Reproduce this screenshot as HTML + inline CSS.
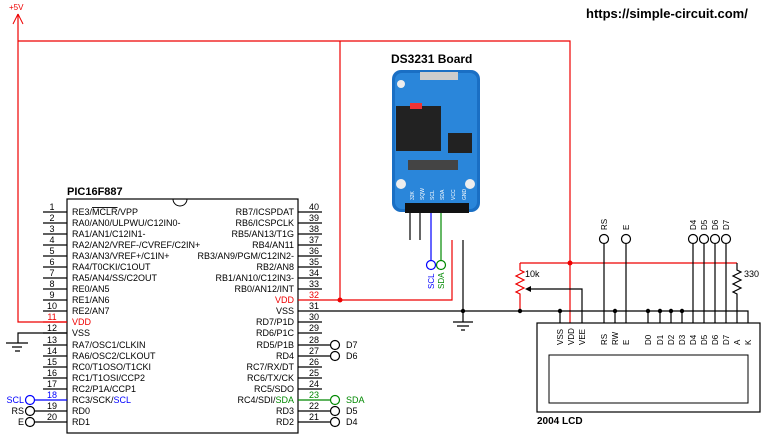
<!DOCTYPE html>
<html><head><meta charset="utf-8"><style>
body{margin:0;background:#fff}
svg{display:block;font-family:"Liberation Sans",Arial,sans-serif}
.p{font-size:9px}
.n{font-size:9px}
</style></head><body>
<svg width="768" height="440" viewBox="0 0 768 440" xmlns="http://www.w3.org/2000/svg">
<rect width="768" height="440" fill="#fff"/>
<text x="586" y="18" font-size="13" font-weight="bold">https://simple-circuit.com/</text>
<!-- +5V -->
<text x="9" y="10" font-size="8" fill="#e00">+5V</text>
<path d="M18 14 L13 24 M18 14 L23 24" stroke="#e00" fill="none"/>
<!-- red wires -->
<g stroke="#e00" fill="none" stroke-width="1.2">
<path d="M18 14 V322 H67"/>
<path d="M18 41 H570 V323"/>
<path d="M340 41 V300"/>
<path d="M322 300 H452 V240"/>
<path d="M520 263 H737"/>
<path d="M520 263 V270 l4 2 l-8 4 l8 4 l-8 4 l8 4 l-8 4 l4 2 V311"/>
<path d="M737 263 V270 l4 2 l-8 4 l8 4 l-8 4 l8 4 l-8 4 l4 2 V323" stroke="#000"/>
</g>
<circle cx="340" cy="300" r="2.5" fill="#e00"/>
<circle cx="570" cy="263" r="2.5" fill="#e00"/>
<!-- black wires -->
<g stroke="#000" fill="none" stroke-width="1.2">
<path d="M322 311 H748 V323"/>
<path d="M463 240 V322"/>
<path d="M453 322 H473 M457 326 H469 M461 330 H465"/>
<path d="M67 333 H18 V343 M6 343 H28 M12 347 H22 M15 351 H20"/>
<path d="M560 311 V323 M615 311 V323 M648 311 V323 M660 311 V323 M671 311 V323 M682 311 V323"/>
<path d="M582 323 V289 H527"/>
<path d="M604 244 V323 M626 244 V323 M693 244 V323 M704 244 V323 M715 244 V323 M726 244 V323"/>
<path d="M410 213 V240 M420 213 V240"/>
</g>
<path d="M525 289 l6 -3 v6 z" fill="#000"/>
<g fill="#000"><circle cx="463" cy="311" r="2.2"/><circle cx="520" cy="311" r="2.2"/><circle cx="560" cy="311" r="2.2"/><circle cx="615" cy="311" r="2.2"/><circle cx="648" cy="311" r="2.2"/><circle cx="660" cy="311" r="2.2"/><circle cx="671" cy="311" r="2.2"/><circle cx="682" cy="311" r="2.2"/></g>
<text x="525" y="277" font-size="9">10k</text>
<text x="744" y="277" font-size="9">330</text>
<!-- LCD terminals -->
<g fill="#fff" stroke="#000" stroke-width="1.2">
<circle cx="604" cy="239" r="4.5"/><circle cx="626" cy="239" r="4.5"/><circle cx="693" cy="239" r="4.5"/><circle cx="704" cy="239" r="4.5"/><circle cx="715" cy="239" r="4.5"/><circle cx="726" cy="239" r="4.5"/>
</g>
<g font-size="8">
<text transform="translate(607,230) rotate(-90)">RS</text>
<text transform="translate(629,230) rotate(-90)">E</text>
<text transform="translate(696,230) rotate(-90)">D4</text>
<text transform="translate(707,230) rotate(-90)">D5</text>
<text transform="translate(718,230) rotate(-90)">D6</text>
<text transform="translate(729,230) rotate(-90)">D7</text>
</g>
<!-- LCD -->
<rect x="537" y="323" width="223" height="89" fill="#fff" stroke="#000" stroke-width="1.2"/>
<rect x="549" y="355" width="199" height="48" fill="#fff" stroke="#000"/>
<text x="537" y="424" font-size="10" font-weight="bold">2004 LCD</text>
<g font-size="8">
<text transform="translate(563,345) rotate(-90)">VSS</text>
<text transform="translate(574,345) rotate(-90)">VDD</text>
<text transform="translate(585,345) rotate(-90)">VEE</text>
<text transform="translate(607,345) rotate(-90)">RS</text>
<text transform="translate(618,345) rotate(-90)">RW</text>
<text transform="translate(629,345) rotate(-90)">E</text>
<text transform="translate(651,345) rotate(-90)">D0</text>
<text transform="translate(663,345) rotate(-90)">D1</text>
<text transform="translate(674,345) rotate(-90)">D2</text>
<text transform="translate(685,345) rotate(-90)">D3</text>
<text transform="translate(696,345) rotate(-90)">D4</text>
<text transform="translate(707,345) rotate(-90)">D5</text>
<text transform="translate(718,345) rotate(-90)">D6</text>
<text transform="translate(729,345) rotate(-90)">D7</text>
<text transform="translate(740,345) rotate(-90)">A</text>
<text transform="translate(751,345) rotate(-90)">K</text>
</g>
<!-- DS3231 -->
<text x="391" y="63" font-size="12" font-weight="bold">DS3231 Board</text>
<rect x="392" y="70" width="88" height="142" rx="9" fill="#1a6fc4"/>
<rect x="395" y="73" width="82" height="136" rx="7" fill="#2a86da"/>
<rect x="396" y="106" width="45" height="45" fill="#222"/>
<rect x="448" y="133" width="24" height="20" fill="#222"/>
<rect x="410" y="103" width="12" height="6" fill="#e33"/>
<circle cx="401" cy="84" r="4" fill="#eee"/><circle cx="470" cy="184" r="5" fill="#eee"/><circle cx="401" cy="184" r="5" fill="#eee"/>
<rect x="420" y="72" width="38" height="8" fill="#ccc"/>
<rect x="408" y="160" width="50" height="10" fill="#444"/>
<rect x="405" y="203" width="64" height="10" fill="#111"/>
<g font-size="5" fill="#fff">
<text transform="translate(414,200) rotate(-90)">32K</text>
<text transform="translate(424,200) rotate(-90)">SQW</text>
<text transform="translate(434,200) rotate(-90)">SCL</text>
<text transform="translate(444,200) rotate(-90)">SDA</text>
<text transform="translate(455,200) rotate(-90)">VCC</text>
<text transform="translate(466,200) rotate(-90)">GND</text>
</g>
<path d="M431 213 V260" stroke="#00f" stroke-width="1.2"/>
<path d="M441 213 V260" stroke="#080" stroke-width="1.2"/>
<circle cx="431" cy="265" r="4.5" fill="#fff" stroke="#00f" stroke-width="1.2"/>
<circle cx="441" cy="265" r="4.5" fill="#fff" stroke="#080" stroke-width="1.2"/>
<text transform="translate(434,289) rotate(-90)" font-size="8" fill="#00f">SCL</text>
<text transform="translate(444,289) rotate(-90)" font-size="8" fill="#080">SDA</text>
<!-- MCU -->
<text x="67" y="195" font-size="11" font-weight="bold">PIC16F887</text>
<rect x="67" y="199" width="231" height="234" fill="#fff" stroke="#000" stroke-width="1.2"/>
<path d="M173 199 a7 7 0 0 0 14 0" fill="none" stroke="#000"/>
<g stroke="#000" stroke-width="1.2">
<path d="M43 212H67M43 223H67M43 234H67M43 245H67M43 256H67M43 267H67M43 278H67M43 289H67M43 300H67M43 311H67M43 333H67M43 345H67M43 356H67M43 367H67M43 378H67M43 389H67M43 411H67M43 422H67"/>
<path d="M298 212H322M298 223H322M298 234H322M298 245H322M298 256H322M298 267H322M298 278H322M298 289H322M298 311H322M298 322H322M298 333H322M298 345H322M298 356H322M298 367H322M298 378H322M298 389H322M298 411H322M298 422H322"/>
<path d="M322 345H331M322 356H331M322 411H331M322 422H331M34 411H43M34 422H43"/>
</g>
<path d="M43 322H67" stroke="#e00" stroke-width="1.2"/>
<path d="M298 300H322" stroke="#e00" stroke-width="1.2"/>
<path d="M34 400H67" stroke="#00f" stroke-width="1.2"/>
<path d="M298 400H331" stroke="#080" stroke-width="1.2"/>
<g fill="#fff" stroke="#000" stroke-width="1.2">
<circle cx="335" cy="345" r="4.5"/><circle cx="335" cy="356" r="4.5"/><circle cx="335" cy="411" r="4.5"/><circle cx="335" cy="422" r="4.5"/>
<circle cx="30" cy="411" r="4.5"/><circle cx="30" cy="422" r="4.5"/>
</g>
<circle cx="335" cy="400" r="4.5" fill="#fff" stroke="#080" stroke-width="1.2"/>
<circle cx="30" cy="400" r="4.5" fill="#fff" stroke="#00f" stroke-width="1.2"/>
<g font-size="9">
<text x="346" y="348">D7</text><text x="346" y="359">D6</text><text x="346" y="403" fill="#080">SDA</text><text x="346" y="414">D5</text><text x="346" y="425">D4</text>
<text x="24" y="403" text-anchor="end" fill="#00f">SCL</text><text x="24" y="414" text-anchor="end">RS</text><text x="24" y="425" text-anchor="end">E</text>
</g>
<g class="n" text-anchor="middle">
<text x="52" y="210">1</text><text x="52" y="221">2</text><text x="52" y="232">3</text><text x="52" y="243">4</text><text x="52" y="254">5</text><text x="52" y="265">6</text><text x="52" y="276">7</text><text x="52" y="287">8</text><text x="52" y="298">9</text><text x="52" y="309">10</text><text x="52" y="320" fill="#e00">11</text><text x="52" y="331">12</text><text x="52" y="343">13</text><text x="52" y="354">14</text><text x="52" y="365">15</text><text x="52" y="376">16</text><text x="52" y="387">17</text><text x="52" y="398" fill="#00f">18</text><text x="52" y="409">19</text><text x="52" y="420">20</text>
<text x="314" y="210">40</text><text x="314" y="221">39</text><text x="314" y="232">38</text><text x="314" y="243">37</text><text x="314" y="254">36</text><text x="314" y="265">35</text><text x="314" y="276">34</text><text x="314" y="287">33</text><text x="314" y="298" fill="#e00">32</text><text x="314" y="309">31</text><text x="314" y="320">30</text><text x="314" y="331">29</text><text x="314" y="343">28</text><text x="314" y="354">27</text><text x="314" y="365">26</text><text x="314" y="376">25</text><text x="314" y="387">24</text><text x="314" y="398" fill="#080">23</text><text x="314" y="409">22</text><text x="314" y="420">21</text>
</g>
<g class="p">
<text x="72" y="215">RE3/<tspan text-decoration="overline">MCLR</tspan>/VPP</text>
<text x="72" y="226">RA0/AN0/ULPWU/C12IN0-</text>
<text x="72" y="237">RA1/AN1/C12IN1-</text>
<text x="72" y="248">RA2/AN2/VREF-/CVREF/C2IN+</text>
<text x="72" y="259">RA3/AN3/VREF+/C1IN+</text>
<text x="72" y="270">RA4/T0CKI/C1OUT</text>
<text x="72" y="281">RA5/AN4/SS/C2OUT</text>
<text x="72" y="292">RE0/AN5</text>
<text x="72" y="303">RE1/AN6</text>
<text x="72" y="314">RE2/AN7</text>
<text x="72" y="325" fill="#e00">VDD</text>
<text x="72" y="336">VSS</text>
<text x="72" y="348">RA7/OSC1/CLKIN</text>
<text x="72" y="359">RA6/OSC2/CLKOUT</text>
<text x="72" y="370">RC0/T1OSO/T1CKI</text>
<text x="72" y="381">RC1/T1OSI/CCP2</text>
<text x="72" y="392">RC2/P1A/CCP1</text>
<text x="72" y="403">RC3/SCK/<tspan fill="#00f">SCL</tspan></text>
<text x="72" y="414">RD0</text>
<text x="72" y="425">RD1</text>
</g>
<g class="p" text-anchor="end">
<text x="294" y="215">RB7/ICSPDAT</text>
<text x="294" y="226">RB6/ICSPCLK</text>
<text x="294" y="237">RB5/AN13/T1G</text>
<text x="294" y="248">RB4/AN11</text>
<text x="294" y="259">RB3/AN9/PGM/C12IN2-</text>
<text x="294" y="270">RB2/AN8</text>
<text x="294" y="281">RB1/AN10/C12IN3-</text>
<text x="294" y="292">RB0/AN12/INT</text>
<text x="294" y="303" fill="#e00">VDD</text>
<text x="294" y="314">VSS</text>
<text x="294" y="325">RD7/P1D</text>
<text x="294" y="336">RD6/P1C</text>
<text x="294" y="348">RD5/P1B</text>
<text x="294" y="359">RD4</text>
<text x="294" y="370">RC7/RX/DT</text>
<text x="294" y="381">RC6/TX/CK</text>
<text x="294" y="392">RC5/SDO</text>
<text x="294" y="403">RC4/SDI/<tspan fill="#080">SDA</tspan></text>
<text x="294" y="414">RD3</text>
<text x="294" y="425">RD2</text>
</g>
</svg>
</body></html>
